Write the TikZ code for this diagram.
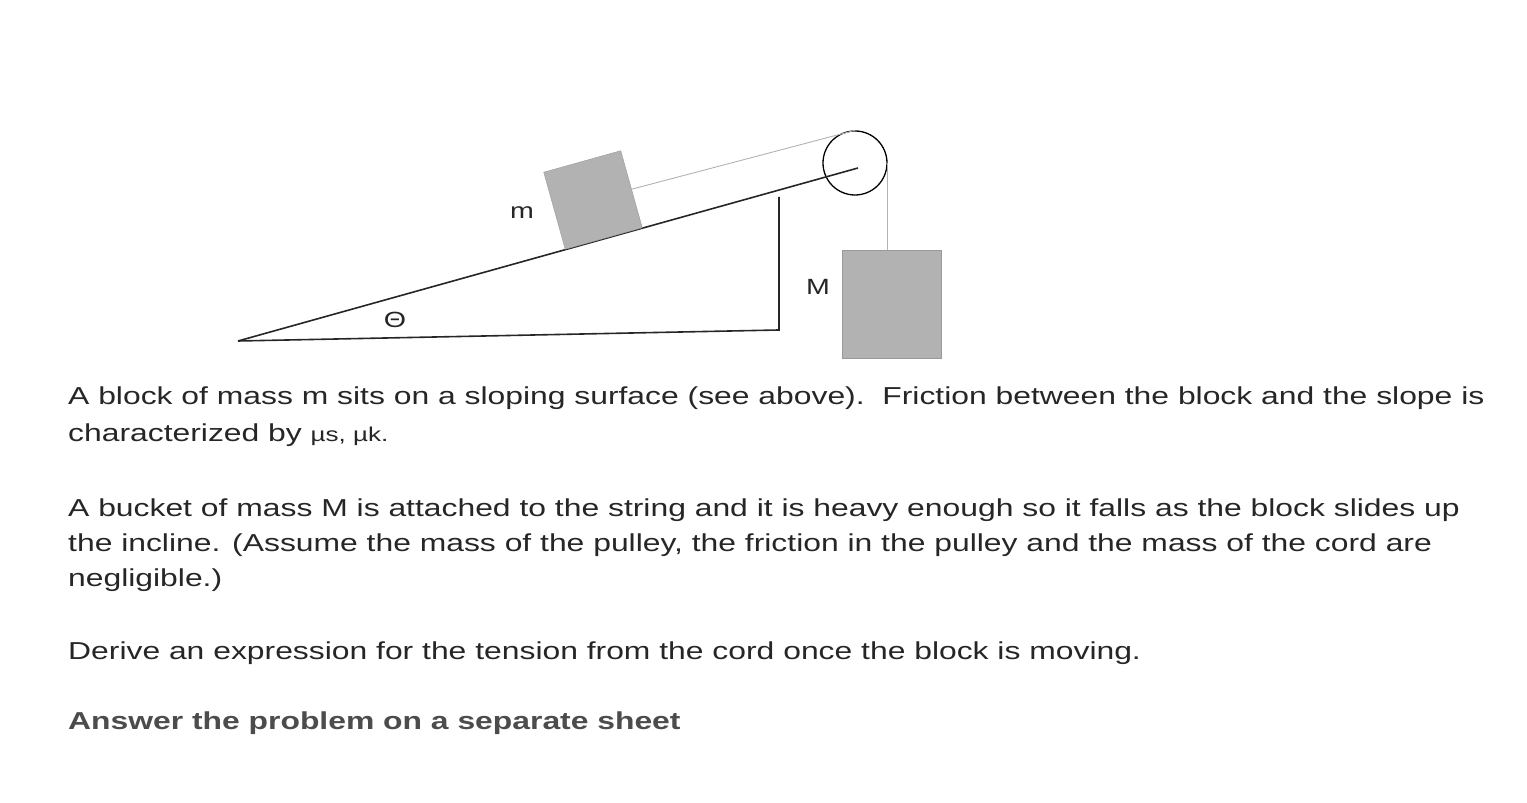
\documentclass[tikz,border=0pt]{standalone}
\usepackage{fontspec}
\setmainfont[FakeStretch=1.3]{Liberation Sans}
\begin{document}
\begin{tikzpicture}[x=1pt,y=1pt,
  line/.style={line width=1.6pt,black!85},
  str/.style={line width=0.9pt,black!30},
  blk/.style={fill=black!30,draw=black!40},
  txt/.style={anchor=base west,inner sep=0pt,font=\fontsize{24.5}{28}\selectfont,text=black!85},
  lbl/.style={inner sep=0pt,font=\fontsize{22}{26}\selectfont,text=black!85}]
\useasboundingbox (0,0) rectangle (1527,803);
\coordinate (A) at (238,462);
\coordinate (B) at (779,473);
\coordinate (C) at (779,606);
\coordinate (D) at (858,635);
\node[circle,draw,line width=1.3pt,minimum size=64pt,inner sep=0pt] (P) at (855,640) {};
\draw[line] (A) -- (B) -- (C);
\draw[line] (A) -- (D);
\node[blk,minimum width=80pt,minimum height=80pt,rotate=15.6,inner sep=0pt] (m) at (593,603) {};
\node[blk,minimum width=99pt,minimum height=108pt,inner sep=0pt] (M) at (892,499) {};
\draw[str] (m.east) -- (P.north);
\draw[str] (P.east) -- (P.east |- M.north);
\node[lbl] (lm) at (522,590) {m};
\node[lbl] (lM) at (818,516) {M};
\node[lbl] (th) at (395,483) {Θ};
\node[txt] (t1) at (68,398) {A block of mass m sits on a sloping surface (see above).\ \ Friction between the block and the slope is};
\node[txt] (t2) at (68,361) {characterized by {\fontsize{20}{22}\selectfont µs, µk.}};
\node[txt] (t3) at (68,286) {A bucket of mass M is attached to the string and it is heavy enough so it falls as the block slides up};
\node[txt] (t4) at (68,251) {the incline. (Assume the mass of the pulley, the friction in the pulley and the mass of the cord are};
\node[txt] (t5) at (68,216) {negligible.)};
\node[txt] (t6) at (68,143) {Derive an expression for the tension from the cord once the block is moving.};
\node[txt,font=\bfseries\fontsize{24.5}{28}\selectfont,text=black!70] (t7) at (68,73) {Answer the problem on a separate sheet};
\end{tikzpicture}
\end{document}
